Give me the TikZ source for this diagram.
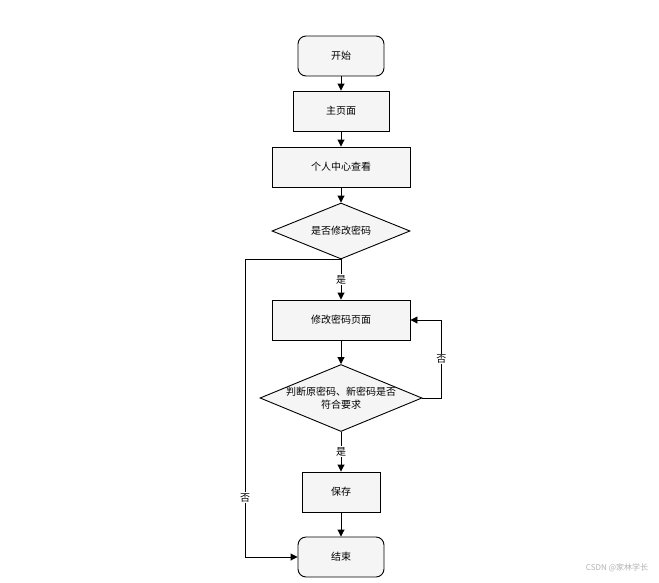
\documentclass[tikz,border=0pt]{standalone}
\usepackage{fontspec}
\setmainfont{Noto Sans CJK SC}
\usetikzlibrary{shapes.geometric,arrows.meta}
\tikzset{
  box/.style={draw, fill=gray!8, minimum width=#1, minimum height=40pt, inner sep=0pt},
  term/.style={draw, fill=gray!8, rounded corners=8pt, minimum width=86pt, minimum height=40pt, inner sep=0pt},
  dec/.style={draw, fill=gray!8, diamond, inner sep=0pt},
  arr/.style={-{Triangle[length=7pt,width=7pt]}}
}
\begin{document}
\begin{tikzpicture}[x=1pt, y=-1pt, font=\fontsize{10}{13}\selectfont, line width=0.9pt]
    \useasboundingbox (0,0) rectangle (659,582);

    % Nodes
    \node[term] (Start) at (341,56) {开始};
    \node[box=96pt] (Home) at (341,111) {主页面};
    \node[box=138pt] (Center) at (341,167) {个人中心查看};
    \node[dec, minimum width=138pt, minimum height=56pt, label=center:{是否修改密码}] (Ask) at (341,231) {};
    \node[box=138pt] (Page) at (341,320) {修改密码页面};
    \node[dec, minimum width=162pt, minimum height=67pt,
          label={[align=center]center:{判断原密码、新密码是否\\符合要求}}] (Check) at (341,398) {};
    \node[box=78pt] (Save) at (341,492) {保存};
    \node[term] (End) at (341,557) {结束};

    % Connections
    \draw[arr] (Start) -- (Home);
    \draw[arr] (Home) -- (Center);
    \draw[arr] (Center) -- (Ask);
    \draw[arr] (Ask) -- (Page) node[midway, fill=white, inner sep=1pt] {是};
    \draw[arr] (Page) -- (Check);
    \draw[arr] (Check) -- (Save) node[midway, fill=white, inner sep=1pt] {是};
    \draw[arr] (Save) -- (End);
    \draw[arr] (Check.east) -- ++(19,0) |- (Page.east) node[pos=0.25, fill=white, inner sep=1pt] {否};
    \draw[arr] (Ask.south) -- ++(-96,0) |- (End.west) node[pos=0.4, fill=white, inner sep=1pt] {否};

    % Watermark
    \node[text=gray!60, font=\fontsize{8}{10}\selectfont, anchor=east] (Mark) at (652,568) {CSDN @家林学长};

\end{tikzpicture}
\end{document}
